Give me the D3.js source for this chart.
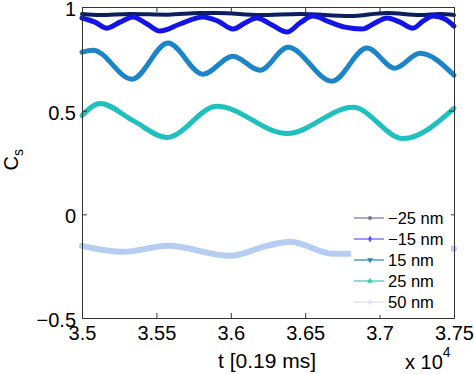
<!DOCTYPE html>
<html>
<head>
<meta charset="utf-8">
<script src="https://cdn.jsdelivr.net/npm/d3@7"></script>
<style>
  body { margin: 0; background: #fff; }
  text { font-family: "Liberation Sans", Arial, sans-serif; fill: #000; }
</style>
</head>
<body>
<svg id="chart" width="474" height="374"></svg>
<script>
// Daten (t in Abtastschritten, C_s dimensionslos)
const xTicks = [35000, 35500, 36000, 36500, 37000, 37500];
const xTickLabels = ['3.5', '3.55', '3.6', '3.65', '3.7', '3.75'];
const yTicks = [-0.5, 0, 0.5, 1];
const yTickLabels = ['\u22120.5', '0', '0.5', '1'];

const seriesNames = ['\u221225 nm', '\u221215 nm', '15 nm', '25 nm', '50 nm'];

const tM25 = [35000, 35121, 35323, 35578, 35793, 35914, 36196, 36465, 36801, 37050, 37271, 37406, 37500];
const cM25 = [0.966, 0.961, 0.966, 0.963, 0.971, 0.971, 0.961, 0.966, 0.956, 0.971, 0.961, 0.966, 0.961];

const tM15 = [35000, 35087, 35168, 35255, 35343, 35437, 35524, 35659, 35813, 35914, 36015, 36095, 36176, 36277,
  36378, 36465, 36552, 36667, 36767, 36882, 36969, 37050, 37137, 37224, 37292, 37359, 37439, 37500];
const cM15 = [0.947, 0.927, 0.898, 0.927, 0.952, 0.918, 0.884, 0.918, 0.952, 0.932, 0.894, 0.923, 0.947, 0.913,
  0.879, 0.923, 0.956, 0.927, 0.903, 0.894, 0.923, 0.947, 0.927, 0.898, 0.932, 0.956, 0.942, 0.908];

const tP15 = [35000, 35074, 35336, 35578, 35813, 36015, 36196, 36384, 36680, 36915, 37103, 37271, 37500];
const cP15 = [0.782, 0.792, 0.652, 0.826, 0.676, 0.763, 0.695, 0.806, 0.642, 0.802, 0.705, 0.777, 0.671];

const tP25 = [35000, 35121, 35343, 35571, 35907, 36378, 36821, 37157, 37500];
const cP25 = [0.477, 0.535, 0.452, 0.371, 0.521, 0.390, 0.516, 0.366, 0.511];

const tP50 = [35000, 35276, 35578, 35995, 36243, 36398, 36687, 36801, 37137, 37486, 37500];
const cP50 = [-0.152, -0.181, -0.152, -0.200, -0.152, -0.132, -0.190, -0.190, -0.176, -0.166, -0.166];

const colors = ['#0b1f5f', '#1414e6', '#1c85c8', '#1fc0bd', '#b5cdf0'];
const legendColors = ['#6f7590', '#5a5aee', '#2a82bc', '#38c8b2', '#d6e2f6'];
const widths = [4, 5, 5, 5, 6];
const markers = [d3.symbolCircle, d3.symbolDiamond, d3.symbolTriangle, d3.symbolTriangle, d3.symbolTriangle];
const markerRot = [0, 0, 180, 0, 90];

///////////////////////////////////////////////////
// Aufbau
///////////////////////////////////////////////////
const mLeft = 82, mRight = 454, mTop = 7, mBottom = 318;
const svg = d3.select('#chart');

const x = d3.scaleLinear().domain([35000, 37500]).range([mLeft, mRight]);
const y = d3.scaleLinear().domain([-0.5, 1]).range([mBottom, mTop]);

const series = [
  [tM25, cM25], [tM15, cM15], [tP15, cP15], [tP25, cP25], [tP50, cP50]
].map(([t, c], i) => ({ name: seriesNames[i], pts: t.map((d, j) => [d, c[j]]) }));

const line = d3.line()
  .x((d) => x(d[0]))
  .y((d) => y(d[1]))
  .curve(d3.curveMonotoneX);

const plot = svg.append('g');
plot.selectAll('path.series')
  .data(series)
  .join('path')
  .attr('class', 'series')
  .attr('fill', 'none')
  .attr('stroke', (d, i) => colors[i])
  .attr('stroke-width', (d, i) => widths[i])
  .attr('stroke-linejoin', 'round')
  .attr('stroke-linecap', 'round')
  .attr('d', (d) => line(d.pts));

// Achsen mit Ticks nach innen
const fmtX = (d) => xTickLabels[xTicks.indexOf(d)];
const fmtY = (d) => yTickLabels[yTicks.indexOf(d)];

function styleAxis(g) {
  g.select('.domain').attr('stroke', '#333').attr('stroke-width', 1);
  g.selectAll('.tick line').attr('stroke', '#333');
  g.selectAll('.tick text').attr('font-family', '"Liberation Sans", Arial, sans-serif').attr('font-size', 20).attr('fill', '#000');
}

svg.append('g')
  .attr('transform', `translate(0,${mBottom})`)
  .call(d3.axisBottom(x).tickValues(xTicks).tickFormat(fmtX).tickSizeInner(-5).tickSizeOuter(0).tickPadding(8))
  .call(styleAxis);

svg.append('g')
  .attr('transform', `translate(0,${mTop})`)
  .call(d3.axisTop(x).tickValues(xTicks).tickFormat('').tickSizeInner(-5).tickSizeOuter(0))
  .call(styleAxis);

svg.append('g')
  .attr('transform', `translate(${mLeft},0)`)
  .call(d3.axisLeft(y).tickValues(yTicks).tickFormat(fmtY).tickSizeInner(-5).tickSizeOuter(0).tickPadding(6))
  .call(styleAxis)
  .call((g) => g.selectAll('.tick text').attr('dy', '0.42em'));

svg.append('g')
  .attr('transform', `translate(${mRight},0)`)
  .call(d3.axisRight(y).tickValues(yTicks).tickFormat('').tickSizeInner(-5).tickSizeOuter(0))
  .call(styleAxis);

// Legende
const legend = svg.append('g');
legend.append('rect')
  .attr('x', 351).attr('y', 207).attr('width', 100).attr('height', 108)
  .attr('fill', '#fff');

const rows = legend.selectAll('g.row')
  .data(series)
  .join('g')
  .attr('class', 'row')
  .attr('transform', (d, i) => `translate(0,${218 + i * 21})`);

rows.append('line')
  .attr('x1', 354).attr('x2', 384).attr('y1', 0).attr('y2', 0)
  .attr('stroke', (d, i) => legendColors[i])
  .attr('stroke-width', 1.2);

rows.append('path')
  .attr('d', (d, i) => d3.symbol(markers[i], i === 0 ? 12 : 14)())
  .attr('transform', (d, i) => `translate(370,0) rotate(${markerRot[i]})`)
  .attr('fill', (d, i) => legendColors[i])
  .attr('stroke', 'none');

rows.append('text')
  .attr('x', 388).attr('y', 0).attr('dy', '0.36em')
  .attr('font-size', 16.5)
  .text((d) => d.name);

// Beschriftungen
svg.append('text')
  .attr('x', 267).attr('y', 368)
  .attr('text-anchor', 'middle')
  .attr('font-size', 21)
  .text('t [0.19 ms]');

const mult = svg.append('text')
  .attr('x', 405).attr('y', 369)
  .attr('font-size', 20);
mult.append('tspan').text('x 10');
mult.append('tspan').attr('dy', -12).attr('font-size', 14).text('4');

const ylab = svg.append('text')
  .attr('transform', `translate(18,${(mTop + mBottom) / 2 + 8}) rotate(-90)`)
  .attr('font-size', 20);
ylab.append('tspan').text('C');
ylab.append('tspan').attr('dy', 5).attr('font-size', 14).text('s');
</script>
</body>
</html>
